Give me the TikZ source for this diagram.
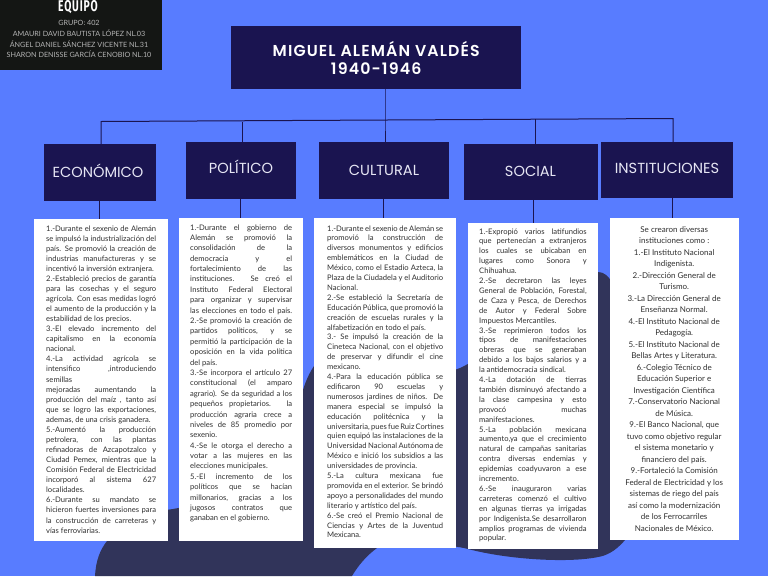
\documentclass[tikz,border=0pt]{standalone}
\usepackage{fontspec}
\setmainfont{Lato}
\newfontfamily\headfont{Poppins}
\newfontfamily\titlefont[LetterSpace=7]{Poppins SemiBold}
\newfontfamily\teamfont{Lato}
\newfontfamily\equipofont[LetterSpace=8]{Fira Sans}
\definecolor{bgblue}{HTML}{587CFF}
\definecolor{navy}{HTML}{1A1450}
\definecolor{blob}{HTML}{31345A}
\definecolor{teambg}{HTML}{141614}
\definecolor{bodytxt}{HTML}{303030}
\definecolor{headtxt}{HTML}{E6E6F4}
\definecolor{teamtxt}{HTML}{B4B4B4}
\newcommand\Jl[1]{\hbox to \hsize{\spaceskip=.26em plus 1fil minus .1em\relax #1}}
\newcommand\El[1]{\hbox to \hsize{\spaceskip=.26em plus .2em minus .1em\relax #1\hfil}}
\newcommand\Cl[1]{\hbox to \hsize{\hfil\spaceskip=.26em plus .2em minus .1em\relax #1\hfil}}
\tikzset{
 headbox/.style={fill=navy,draw=none,inner sep=0pt,anchor=north west},
 headlabel/.style={font=\headfont\fontsize{14.6}{14.6}\selectfont,text=headtxt,inner sep=0pt},
 whitebox/.style={fill=white,draw=none,inner sep=0pt,anchor=north west},
 bodytext/.style={anchor=base west,inner sep=0pt,text=bodytxt,font=\fontsize{7.6}{10}\selectfont},
 conn/.style={draw=navy,line width=1pt},
 teamline/.style={font=\teamfont\fontsize{7.2}{8}\selectfont,text=teamtxt,inner sep=0pt}
}
\begin{document}
\begin{tikzpicture}[x=1pt,y=-1pt]
\useasboundingbox (0,0) rectangle (768,576);
\fill[bgblue] (0,0) rectangle (768,576);
% dark blob
\fill[blob] (95,576) .. controls (96,560) and (100,550) .. (107,541)
 .. controls (125,522) and (150,512) .. (173,509)
 .. controls (230,500) and (285,440) .. (303,390)
 .. controls (306,380) and (310,372) .. (314,366)
 .. controls (360,330) and (420,385) .. (460,368)
 .. controls (510,345) and (560,272) .. (598,272)
 .. controls (604,272) and (608,276) .. (612,282)
 .. controls (650,360) and (665,470) .. (625,540)
 .. controls (615,552) and (605,556) .. (598,557)
 .. controls (570,563) and (510,560) .. (468,549)
 .. controls (450,544) and (410,543) .. (377,548)
 .. controls (366,556) and (358,566) .. (352,576) -- cycle;
% team box
\node[fill=teambg,inner sep=0pt,anchor=north west,minimum width=162pt,minimum height=70pt] (team) at (0,0) {};
\node[inner sep=0pt,text=white] (equipo) at (78,7) {\scalebox{.86}[1.3]{\equipofont\bfseries\fontsize{12}{12}\selectfont EQUIPO}};
\node[teamline] (t1) at (79,23) {GRUPO: 402};
\node[teamline] (t2) at (79,33) {AMAURI DAVID BAUTISTA LÓPEZ NL.03};
\node[teamline] (t3) at (79,44) {ÁNGEL DANIEL SÁNCHEZ VICENTE NL.31};
\node[teamline] (t4) at (79,54) {SHARON DENISSE GARCÍA CENOBIO NL.10};
% white boxes
\node[whitebox,minimum width=134pt,minimum height=322pt] (weco) at (34,219) {};
\node[whitebox,minimum width=124pt,minimum height=323pt] (wpol) at (179,218) {};
\node[whitebox,minimum width=142pt,minimum height=330pt] (wcul) at (314,218) {};
\node[whitebox,minimum width=130pt,minimum height=326pt] (wsoc) at (468,223) {};
\node[whitebox,minimum width=129pt,minimum height=322pt] (wins) at (610,218) {};
% title
\node[headbox,minimum width=290pt,minimum height=63pt,align=center,text=white,font=\titlefont\fontsize{15.8}{18}\selectfont] (title) at (231,26) {MIGUEL ALEMÁN VALDÉS\\1940-1946};
% heads
\node[headbox,minimum width=112pt,minimum height=57pt] (eco) at (44,144) {};
\node[headbox,minimum width=110pt,minimum height=57pt] (pol) at (186,142) {};
\node[headbox,minimum width=130pt,minimum height=57pt] (cul) at (319,142) {};
\node[headbox,minimum width=134pt,minimum height=56pt] (soc) at (464,144) {};
\node[headbox,minimum width=132pt,minimum height=56pt] (ins) at (601,142) {};
\node[headlabel] (leco) at (98,171) {ECONÓMICO};
\node[headlabel] (lpol) at (241,167) {POLÍTICO};
\node[headlabel] (lcul) at (384,170) {CULTURAL};
\node[headlabel] (lsoc) at (530.5,171.5) {SOCIAL};
\node[headlabel] (lins) at (667,168.5) {INSTITUCIONES};
% connectors
\coordinate (busl) at (101,121.5);
\coordinate (busr) at (673,118.5);
\coordinate (b2) at (242,121.5);
\coordinate (b3) at (385,120.3);
\coordinate (b4) at (535,119.3);
\draw[conn] (eco.north -| busl) -- (busl) -- (busr) -- (ins.north -| busr);
\draw[conn] (title.south -| b3) -- (b3) -- (cul.north -| b3);
\draw[conn] (b2) -- (pol.north -| b2);
\draw[conn] (b4) -- (soc.north -| b4);
\coordinate (d1) at (99.5,210);
\coordinate (d2) at (240,210);
\coordinate (d3) at (383,210);
\coordinate (d4) at (533.5,210);
\coordinate (d5) at (672,210);
\draw[conn] (eco.south -| d1) -- (weco.north -| d1);
\draw[conn] (pol.south -| d2) -- (wpol.north -| d2);
\draw[conn] (cul.south -| d3) -- (wcul.north -| d3);
\draw[conn] (soc.south -| d4) -- (wsoc.north -| d4);
\draw[conn] (ins.south -| d5) -- (wins.north -| d5);
% texts
\node[bodytext] (teco) at (46,231) {\vtop{\hsize=110pt\baselineskip=10.07pt\lineskiplimit=-10pt
\Jl{1.-Durante el sexenio de Alemán}
\Jl{se impulsó la industrialización del}
\Jl{país. Se promovió la creación de}
\Jl{industrias manufactureras y se}
\El{incentivó la inversión extranjera.}
\Jl{2.-Estableció precios de garantía}
\Jl{para las cosechas y el seguro}
\Jl{agrícola. Con esas medidas logró}
\Jl{el aumento de la producción y la}
\El{estabilidad de los precios.}
\Jl{3.-El elevado incremento del}
\Jl{capitalismo en la economía}
\El{nacional.}
\Jl{4.-La actividad agrícola se}
\Jl{intensifico ,introduciendo}
\El{semillas}
\Jl{mejoradas aumentando la}
\Jl{producción del maíz , tanto así}
\Jl{que se logro las exportaciones,}
\El{ademas, de una crisis ganadera.}
\Jl{5.-Aumentó la producción}
\Jl{petrolera, con las plantas}
\Jl{refinadoras de Azcapotzalco y}
\Jl{Ciudad Pemex, mientras que la}
\Jl{Comisión Federal de Electricidad}
\Jl{incorporó al sistema 627}
\El{localidades.}
\Jl{6.-Durante su mandato se}
\Jl{hicieron fuertes inversiones para}
\Jl{la construcción de carreteras y}
\El{vías ferroviarias.}
}};
\node[bodytext] (tpol) at (190,230) {\vtop{\hsize=102pt\baselineskip=10.39pt\lineskiplimit=-10pt
\Jl{1.-Durante el gobierno de}
\Jl{Alemán se promovió la}
\Jl{consolidación de la}
\Jl{democracia y el}
\Jl{fortalecimiento de las}
\Jl{instituciones. Se creó el}
\Jl{Instituto Federal Electoral}
\Jl{para organizar y supervisar}
\Jl{las elecciones en todo el país.}
\Jl{2.-Se promovió la creación de}
\Jl{partidos políticos, y se}
\Jl{permitió la participación de la}
\Jl{oposición en la vida política}
\El{del país.}
\Jl{3.-Se incorpora el artículo 27}
\Jl{constitucional (el amparo}
\Jl{agrario). Se da seguridad a los}
\Jl{pequeños propietarios. la}
\Jl{producción agraria crece a}
\Jl{niveles de 85 promedio por}
\El{sexenio.}
\Jl{4.-Se le otorga el derecho a}
\Jl{votar a las mujeres en las}
\El{elecciones municipales.}
\Jl{5.-El incremento de los}
\Jl{políticos que se hacían}
\Jl{millonarios, gracias a los}
\Jl{jugosos contratos que}
\El{ganaban en el gobierno.}
}};
\node[bodytext] (tcul) at (327,231) {\vtop{\hsize=116pt\baselineskip=9.9pt\lineskiplimit=-10pt
\Jl{1.-Durante el sexenio de Alemán se}
\Jl{promovió la construcción de}
\Jl{diversos monumentos y edificios}
\Jl{emblemáticos en la Ciudad de}
\Jl{México, como el Estadio Azteca, la}
\Jl{Plaza de la Ciudadela y el Auditorio}
\El{Nacional.}
\Jl{2.-Se estableció la Secretaría de}
\Jl{Educación Pública, que promovió la}
\Jl{creación de escuelas rurales y la}
\El{alfabetización en todo el país.}
\Jl{3.- Se impulsó la creación de la}
\Jl{Cineteca Nacional, con el objetivo}
\Jl{de preservar y difundir el cine}
\El{mexicano.}
\Jl{4.-Para la educación pública se}
\Jl{edificaron 90 escuelas y}
\Jl{numerosos jardines de niños. De}
\Jl{manera especial se impulsó la}
\Jl{educación politécnica y la}
\Jl{universitaria, pues fue Ruiz Cortines}
\Jl{quien equipó las instalaciones de la}
\Jl{Universidad Nacional Autónoma de}
\Jl{México e inició los subsidios a las}
\El{universidades de provincia.}
\Jl{5.-La cultura mexicana fue}
\Jl{promovida en el exterior. Se brindó}
\Jl{apoyo a personalidades del mundo}
\El{literario y artístico del país.}
\Jl{6.-Se creó el Premio Nacional de}
\Jl{Ciencias y Artes de la Juventud}
\El{Mexicana.}
}};
\node[bodytext] (tsoc) at (479,234) {\vtop{\hsize=107.5pt\baselineskip=9.9pt\lineskiplimit=-10pt
\Jl{1.-Expropió varios latifundios}
\Jl{que pertenecían a extranjeros}
\Jl{los cuales se ubicaban en}
\Jl{lugares como Sonora y}
\El{Chihuahua.}
\Jl{2.-Se decretaron las leyes}
\Jl{General de Población, Forestal,}
\Jl{de Caza y Pesca, de Derechos}
\Jl{de Autor y Federal Sobre}
\El{Impuestos Mercantiles.}
\Jl{3.-Se reprimieron todos los}
\Jl{tipos de manifestaciones}
\Jl{obreras que se generaban}
\Jl{debido a los bajos salarios y a}
\El{la antidemocracia sindical.}
\Jl{4.-La dotación de tierras}
\Jl{también disminuyó afectando a}
\Jl{la clase campesina y esto}
\Jl{provocó muchas}
\El{manifestaciones.}
\Jl{5.-La población mexicana}
\Jl{aumento,ya que el crecimiento}
\Jl{natural de campañas sanitarias}
\Jl{contra diversas endemias y}
\Jl{epidemias coadyuvaron a ese}
\El{incremento.}
\Jl{6.-Se inauguraron varias}
\Jl{carreteras comenzó el cultivo}
\Jl{en algunas tierras ya irrigadas}
\Jl{por Indigenista.Se desarrollaron}
\Jl{amplios programas de vivienda}
\El{popular.}
}};
\node[bodytext] (tins) at (614,232) {\vtop{\hsize=120pt\baselineskip=11.5pt\lineskiplimit=-10pt\fontsize{8}{11.5}\selectfont
\Cl{Se crearon diversas}
\Cl{instituciones como :}
\Cl{1.-El Instituto Nacional}
\Cl{Indigenista.}
\Cl{2.-Dirección General de}
\Cl{Turismo.}
\Cl{3.-La Dirección General de}
\Cl{Enseñanza Normal.}
\Cl{4.-El Instituto Nacional de}
\Cl{Pedagogía.}
\Cl{5.-El Instituto Nacional de}
\Cl{Bellas Artes y Literatura.}
\Cl{6.-Colegio Técnico de}
\Cl{Educación Superior e}
\Cl{Investigación Científica}
\Cl{7.-Conservatorio Nacional}
\Cl{de Música.}
\Cl{9.-El Banco Nacional, que}
\Cl{tuvo como objetivo regular}
\Cl{el sistema monetario y}
\Cl{financiero del país.}
\Cl{9.-Fortaleció la Comisión}
\Cl{Federal de Electricidad y los}
\Cl{sistemas de riego del país}
\Cl{así como la modernización}
\Cl{de los Ferrocarriles}
\Cl{Nacionales de México.}
}};
\end{tikzpicture}
\end{document}
